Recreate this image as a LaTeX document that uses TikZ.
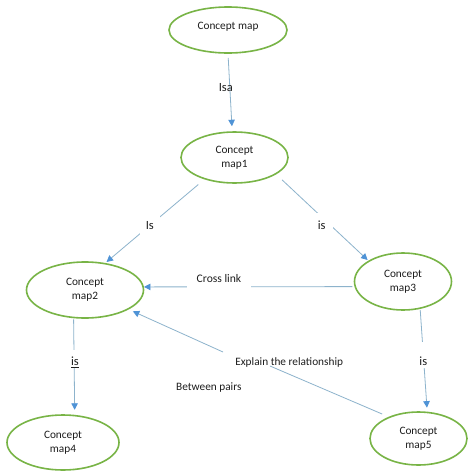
\documentclass[tikz,border=0pt]{standalone}
\usepackage{fontspec}
\setmainfont{Carlito}
\usetikzlibrary{shapes.geometric,arrows.meta}
\definecolor{cgreen}{HTML}{78B446}
\definecolor{lcol}{HTML}{8DB3CC}
\definecolor{acol}{HTML}{4F93D6}
\definecolor{textc}{HTML}{1E1E1E}
\tikzset{
  concept/.style={ellipse, draw=cgreen, line width=1.6pt, inner sep=0pt, align=center,
    text=textc, font=\fontsize{11.3}{14}\selectfont},
  conn/.style={draw=lcol, line width=0.8pt},
  link/.style={conn, -{Triangle[length=6.5pt,width=6.5pt,color=acol]}},
  lbl/.style={text=textc, font=\fontsize{12.5}{14}\selectfont, inner sep=0pt, anchor=base},
  txt/.style={text=textc, font=\fontsize{11.3}{14}\selectfont, inner sep=0pt, anchor=base},
  gapbox/.style={fill=white}
}
\begin{document}
\begin{tikzpicture}[x=1pt,y=-1pt]
\useasboundingbox[fill=white] (0,0) rectangle (474,474);
% concepts
\node[concept, minimum width=118pt, minimum height=46pt] (m0) at (228,30) {\raisebox{0.5pt}[0pt][0pt]{Concept map}};
\node[concept, minimum width=107pt, minimum height=51pt] (m1) at (234.5,157.5) {Concept\\map1};
\node[concept, minimum width=117pt, minimum height=56pt] (m2) at (85,290) {Concept\\map2};
\node[concept, minimum width=97pt, minimum height=57pt] (m3) at (403,281.5) {Concept\\map3};
\node[concept, minimum width=112pt, minimum height=55pt] (m4) at (63,442.5) {Concept\\map4};
\node[concept, minimum width=97pt, minimum height=53pt] (m5) at (418.5,438.5) {Concept\\map5};
% free ends of the "Explain the relationship" link
\coordinate (ex1) at (223,352);
\coordinate (ex2) at (270,366);
% connectors
\draw[link, shorten <=4pt, shorten >=5pt] (m0.south) -- (m1.95);
\draw[link, shorten <=8pt, shorten >=1.5pt] (m1.216) -- (m2.53);
\draw[link, shorten <=8pt, shorten >=1pt] (m1.338) -- (m3.149);
\draw[link, shorten <=2pt] (m3.186) -- (m2.3);
\draw[conn, shorten <=7pt] (m5.144) -- (ex2);
\draw[link, shorten >=4.5pt] (ex1) -- (m2.336);
\draw[link, shorten <=1pt, shorten >=5pt] (m2.248) -- (m4.67);
\draw[link, shorten <=1pt, shorten >=4pt] (m3.302) -- (m5.72);
% labels
\node[lbl] (lisa) at (225.8,91) {Isa};
\node[lbl, gapbox, inner sep=6pt] (lis1) at (149.8,229.3) {Is};
\node[lbl, gapbox, inner xsep=7pt, inner ysep=2pt, text height=14pt] (lis2) at (321.7,229.3) {is};
\node[lbl, gapbox, inner xsep=3pt, inner ysep=2pt, text height=14pt, text depth=0.3pt] (lis3) at (75,365.7) {\underline{is}};
\node[lbl, gapbox, inner xsep=3pt, inner ysep=2pt, text height=22pt, text depth=0pt] (lis4) at (423.3,365.7) {is};
\node[txt, gapbox, inner xsep=10pt, inner ysep=3pt, text depth=6pt, font=\fontsize{11.6}{14}\selectfont] (lcross) at (219,282.3) {Cross link};
\node[txt] (lexpl) at (289.2,365.5) {Explain the relationship};
\node[txt] (lpairs) at (208.8,390.5) {Between pairs};
\end{tikzpicture}
\end{document}
